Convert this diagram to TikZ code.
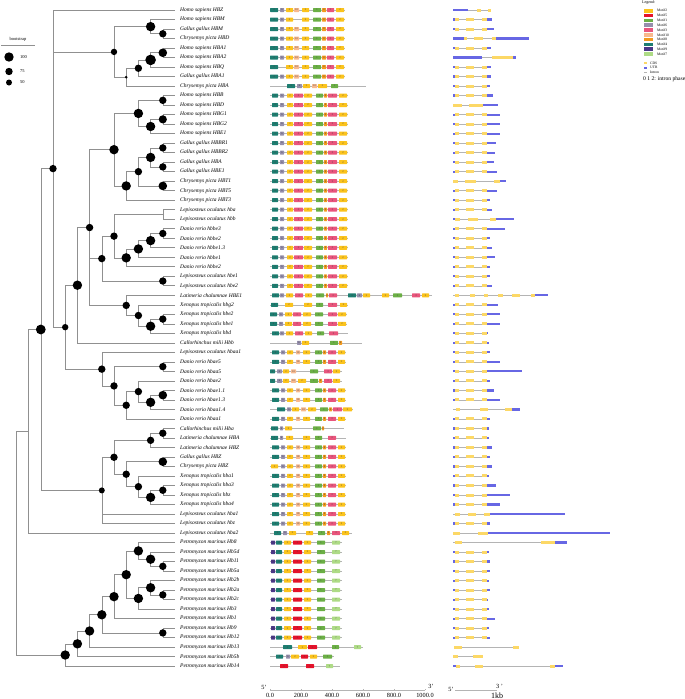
\documentclass[tikz,border=0pt]{standalone}
\usepackage{fontspec}
\setmainfont{Liberation Serif}
\usetikzlibrary{calc}
\definecolor{mone}{HTML}{6BAF45}
\definecolor{mtwo}{HTML}{FBC31C}
\definecolor{mthree}{HTML}{E9557C}
\definecolor{mfour}{HTML}{1D7D70}
\definecolor{mfive}{HTML}{E5122A}
\definecolor{msix}{HTML}{968FAC}
\definecolor{mseven}{HTML}{AEDB86}
\definecolor{meight}{HTML}{F39A1E}
\definecolor{mnine}{HTML}{4B3787}
\definecolor{mten}{HTML}{F8B98E}
\definecolor{cdsc}{HTML}{FCD866}
\definecolor{utrc}{HTML}{6767E4}
\definecolor{brc}{HTML}{909090}
\definecolor{lnc}{HTML}{B4B4B4}
\tikzset{
  branch/.style={draw=brc, line width=0.6pt},
  leaflab/.style={anchor=west, inner sep=0pt, font=\fontsize{5.5}{6}\selectfont\itshape},
  mlab/.style={inner sep=0pt, font=\fontsize{2.6}{3}\selectfont, text=black!75},
  mline/.style={draw=lnc, line width=0.6pt},
  gline/.style={draw=lnc, line width=0.5pt},
  axlab/.style={inner sep=0pt, font=\fontsize{6.3}{7}\selectfont},
  leglab/.style={anchor=west, inner sep=0pt, font=\fontsize{3.6}{4}\selectfont},
}
\newcommand{\nd}[4]{\path let \p1=(#3), \p2=(#4) in coordinate (#1) at ({175-12.2*#2},{0.5*\y1+0.5*\y2});}
\newcommand{\mrow}[4]{%
  \pgfmathsetmacro\ry{10+9.51*(#1-1)}%
  \draw[mline] (270+#2,\ry) -- (270+#3,\ry);%
  \foreach \ms/\me/\mc/\ml in #4 {%
    \fill[\mc, rounded corners=0.5pt] ({270+\ms},\ry-2) rectangle ({270+\me},\ry+2);%
    \node[mlab] (m#1-\ms) at ({270+(\ms+\me)/2},\ry) {\ml};%
  }%
}
\def\tU{U}
\newcommand{\grow}[4]{%
  \pgfmathsetmacro\ry{10+9.51*(#1-1)}%
  \draw[gline] (#2,\ry) -- (#3,\ry);%
  \foreach \gt/\gs/\ge in #4 {%
    \ifx\gt\tU
      \fill[utrc] (\gs,\ry-1.1) rectangle (\ge,\ry+1.1);%
    \else
      \fill[cdsc] (\gs,\ry-1.5) rectangle (\ge,\ry+1.5);%
    \fi
  }%
}
\newcommand{\gstd}[2]{\grow{#1}{453}{#2}{{U/453/455, C/455/459, C/466/474, C/482/487, U/487/#2}}}
\def\motA{0/8/mfour/4, 10/14/msix/6, 16/23/mtwo/2, 24/29/mten/10, 32/39/mtwo/2, 43/51/mone/1, 52/56/meight/8, 57/64/mthree/3, 66/74/mtwo/2}
\def\motB{2/8/mfour/4, 10/14/msix/6, 17/23/mtwo/2, 24/33/mthree/3, 34/42/mtwo/2, 46/53/mone/1, 54/57/meight/8, 58/67/mthree/3, 69/77/mtwo/2}
\def\motC{2/9/mfour/4, 11/15/msix/6, 17/23/mtwo/2, 26/30/mten/10, 33/40/mtwo/2, 45/52/mone/1, 53/56/meight/8, 58/66/mthree/3, 68/75/mtwo/2}
\def\motP{1/5/mnine/9, 6/12/mfour/4, 14/21/mtwo/2, 23/32/mfive/5, 34/41/mtwo/2, 47/55/mone/1, 62/70/mseven/7}
\begin{document}
\begin{tikzpicture}[x=1pt,y=-1pt]
\useasboundingbox (0,0) rectangle (685,699);
\fill[white] (0,0) rectangle (685,699);
% leaves
\foreach \i in {1,...,70} \coordinate (L\i) at (175,{10+9.51*(\i-1)});
% internal nodes
\nd{n56}{1}{L5}{L6}
\nd{n57}{2}{n56}{L7}
\nd{n58}{3}{n57}{L8}
\nd{n59}{4}{n58}{L9}
\nd{n34}{1}{L3}{L4}
\nd{n234}{2}{L2}{n34}
\nd{nAa}{5}{n234}{n59}
\nd{n1011}{1}{L10}{L11}
\nd{n1213}{1}{L12}{L13}
\nd{n1214}{2}{n1213}{L14}
\nd{n1014}{3}{n1011}{n1214}
\nd{n1516}{1}{L15}{L16}
\nd{n1718}{1}{L17}{L18}
\nd{n1518}{2}{n1516}{n1718}
\nd{n1920}{1}{L19}{L20}
\nd{n1520}{3}{n1518}{n1920}
\nd{n1521}{4}{n1520}{L21}
\nd{nE}{5}{n1014}{n1521}
\nd{n2223}{1}{L22}{L23}
\nd{n2425}{1}{L24}{L25}
\nd{n2426}{2}{n2425}{L26}
\nd{n2427}{3}{n2426}{L27}
\nd{n2428}{4}{n2427}{L28}
\nd{nH}{5}{n2223}{n2428}
\nd{n2930}{1}{L29}{L30}
\nd{nG}{6}{nH}{n2930}
\nd{n3334}{1}{L33}{L34}
\nd{n3335}{2}{n3334}{L35}
\nd{n3235}{3}{L32}{n3335}
\nd{nF}{4}{L31}{n3235}
\nd{nD}{7}{nE}{nF}
\nd{nC}{8}{nD}{L36}
\nd{n3839}{1}{L38}{L39}
\nd{n4142}{1}{L41}{L42}
\nd{n4143}{2}{n4142}{L43}
\nd{n4043}{3}{L40}{n4143}
\nd{n4044}{4}{n4043}{L44}
\nd{n3844}{5}{n3839}{n4044}
\nd{nI}{6}{L37}{n3844}
\nd{nN}{9}{nC}{nI}
\nd{nB}{10}{L1}{nN}
\nd{n4546}{1}{L45}{L46}
\nd{n4547}{2}{n4546}{L47}
\nd{n4849}{1}{L48}{L49}
\nd{n5152}{1}{L51}{L52}
\nd{n5153}{2}{n5152}{L53}
\nd{n5053}{3}{L50}{n5153}
\nd{n4853}{4}{n4849}{n5053}
\nd{nK}{5}{n4547}{n4853}
\nd{nJ}{6}{nK}{L55}
\nd{nA}{11}{nB}{nJ}
\nd{nJaw}{12}{nA}{L56}
\nd{n5960}{1}{L59}{L60}
\nd{n5860}{2}{L58}{n5960}
\nd{n5760}{3}{L57}{n5860}
\nd{n6263}{1}{L62}{L63}
\nd{n6163}{2}{L61}{n6263}
\nd{n6164}{3}{n6163}{L64}
\nd{n5764}{4}{n5760}{n6164}
\nd{n5765}{5}{n5764}{L65}
\nd{n6667}{1}{L66}{L67}
\nd{n5767}{6}{n5765}{n6667}
\nd{n5768}{7}{n5767}{L68}
\nd{n5769}{8}{n5768}{L69}
\nd{nP}{9}{n5769}{L70}
\nd{nR}{13}{nJaw}{nP}
% branches
\foreach \a/\b in {nR/nJaw, nR/nP, nJaw/nA, nJaw/L56, nA/nB, nA/nJ, nB/L1, nB/nAa, nB/nN, nAa/n234, nAa/n59, n234/L2, n234/n34, n34/L3, n34/L4, n59/n58, n59/L9, n58/n57, n58/L8, n57/n56, n57/L7, n56/L5, n56/L6, nN/nC, nN/nI, nC/nD, nC/L36, nD/nE, nD/nG, nD/nF, nE/n1014, nE/n1521, n1014/n1011, n1014/n1214, n1011/L10, n1011/L11, n1214/n1213, n1214/L14, n1213/L12, n1213/L13, n1521/n1520, n1521/L21, n1520/n1518, n1520/n1920, n1518/n1516, n1518/n1718, n1516/L15, n1516/L16, n1718/L17, n1718/L18, n1920/L19, n1920/L20, nG/nH, nG/n2930, nH/n2223, nH/n2428, n2223/L22, n2223/L23, n2428/n2427, n2428/L28, n2427/n2426, n2427/L27, n2426/n2425, n2426/L26, n2425/L24, n2425/L25, n2930/L29, n2930/L30, nF/L31, nF/n3235, n3235/L32, n3235/n3335, n3335/n3334, n3335/L35, n3334/L33, n3334/L34, nI/L37, nI/n3844, n3844/n3839, n3844/n4044, n3839/L38, n3839/L39, n4044/n4043, n4044/L44, n4043/L40, n4043/n4143, n4143/n4142, n4143/L43, n4142/L41, n4142/L42, nJ/nK, nJ/L54, nJ/L55, nK/n4547, nK/n4853, n4547/n4546, n4547/L47, n4546/L45, n4546/L46, n4853/n4849, n4853/n5053, n4849/L48, n4849/L49, n5053/L50, n5053/n5153, n5153/n5152, n5153/L53, n5152/L51, n5152/L52, nP/n5769, nP/L70, n5769/n5768, n5769/L69, n5768/n5767, n5768/L68, n5767/n5765, n5767/n6667, n6667/L66, n6667/L67, n5765/n5764, n5765/L65, n5764/n5760, n5764/n6164, n5760/L57, n5760/n5860, n5860/L58, n5860/n5960, n5960/L59, n5960/L60, n6164/n6163, n6164/L64, n6163/L61, n6163/n6263, n6263/L62, n6263/L63}
  \draw[branch] (\a) |- (\b);
% bootstrap dots
\foreach \n/\r in {n234/4.7, n34/3.7, nAa/3.2, n57/5.3, n56/4.3, n58/3.7, n59/1.4, n1011/3.7, n1014/4.7, n1214/4.7, n1213/4.1, nE/4.7, n1516/3.7, n1518/4.7, n1718/3.7, n1520/3.7, n1521/4.7, n1920/4.3, nB/3.7, nD/3.7, n2425/3.7, n2426/4.7, n2427/4.7, n2428/4.7, nH/3.7, nG/3.7, n2930/3.7, nC/4.7, nN/3.2, nA/4.9, nF/3.7, n3235/3.7, n3334/3.7, n3335/4.7, nI/3.7, n3839/3.7, n3844/3.7, n4044/3.7, n4043/3.7, n4143/4.7, n4142/4.3, n4547/3.7, n4546/3.7, nK/3.7, n4849/4.3, nJ/3.0, n4853/3.7, n5053/3.7, n5152/3.7, n5153/4.7, n5760/4.7, n5860/4.7, n5960/3.7, n5764/4.7, n6163/4.7, n6263/3.7, n6164/4.7, n5765/4.7, n5767/4.7, n6667/3.7, n5768/4.7, n5769/4.7, nP/4.7}
  \fill[black] (\n) circle (\r pt);
% leaf labels
\foreach \i/\t in {1/Homo sapiens HBZ, 2/Homo sapiens HBM, 3/Gallus gallus HBM, 4/Chrysemys picta HBD, 5/Homo sapiens HBA1, 6/Homo sapiens HBA2, 7/Homo sapiens HBQ, 8/Gallus gallus HBA1, 9/Chrysemys picta HBA, 10/Homo sapiens HBB, 11/Homo sapiens HBD, 12/Homo sapiens HBG1, 13/Homo sapiens HBG2, 14/Homo sapiens HBE1, 15/Gallus gallus HBBR1, 16/Gallus gallus HBBR2, 17/Gallus gallus HBA, 18/Gallus gallus HBE1, 19/Chrysemys picta HBT1, 20/Chrysemys picta HBT5, 21/Chrysemys picta HBT3, 22/Lepisosteus oculatus hba, 23/Lepisosteus oculatus hbb, 24/Danio rerio hbbe3, 25/Danio rerio hbbe2, 26/Danio rerio hbbe1.3, 27/Danio rerio hbbe1, 28/Danio rerio hbbe2, 29/Lepisosteus oculatus hbe1, 30/Lepisosteus oculatus hbe2, 31/Latimeria chalumnae HBE1, 32/Xenopus tropicalis hbg2, 33/Xenopus tropicalis hbe2, 34/Xenopus tropicalis hbe1, 35/Xenopus tropicalis hbd, 36/Callorhinchus milii Hbb, 37/Lepisosteus oculatus hbaa1, 38/Danio rerio hbae5, 39/Danio rerio hbaa5, 40/Danio rerio hbae2, 41/Danio rerio hbae1.1, 42/Danio rerio hbae1.3, 43/Danio rerio hbaa1.4, 44/Danio rerio hbaa1, 45/Callorhinchus milii Hba, 46/Latimeria chalumnae HBA, 47/Latimeria chalumnae HBZ, 48/Gallus gallus HBZ, 49/Chrysemys picta HBZ, 50/Xenopus tropicalis hba1, 51/Xenopus tropicalis hba3, 52/Xenopus tropicalis hbz, 53/Xenopus tropicalis hba4, 54/Lepisosteus oculatus hba1, 55/Lepisosteus oculatus hbz, 56/Lepisosteus oculatus hba2, 57/Petromyzon marinus Hb8, 58/Petromyzon marinus Hb5d, 59/Petromyzon marinus Hb11, 60/Petromyzon marinus Hb5a, 61/Petromyzon marinus Hb2b, 62/Petromyzon marinus Hb2a, 63/Petromyzon marinus Hb2c, 64/Petromyzon marinus Hb3, 65/Petromyzon marinus Hb1, 66/Petromyzon marinus Hb9, 67/Petromyzon marinus Hb12, 68/Petromyzon marinus Hb13, 69/Petromyzon marinus Hb5b, 70/Petromyzon marinus Hb14}
  \node[leaflab] (t\i) at (180,{10+9.51*(\i-1)}) {\t};
% bootstrap legend
\node[inner sep=0pt, font=\fontsize{4.5}{5}\selectfont] (bstitle) at (18,39.5) {bootstrap};
\draw[brc, line width=0.4pt] (1,45) coordinate (bsa) -- (35,45) coordinate (bsb);
\fill (9,57) coordinate (bs1) circle (4.7pt);
\fill (9,71.5) coordinate (bs2) circle (3.7pt);
\fill (9,82.5) coordinate (bs3) circle (3.0pt);
\node[anchor=west, inner sep=0pt, font=\fontsize{4.5}{5}\selectfont] (bl1) at (20,57) {100};
\node[anchor=west, inner sep=0pt, font=\fontsize{4.5}{5}\selectfont] (bl2) at (20,71.5) {75};
\node[anchor=west, inner sep=0pt, font=\fontsize{4.5}{5}\selectfont] (bl3) at (20,82.5) {50};
% motif rows
\mrow{1}{0}{75}{\motA}
\mrow{2}{0}{75}{{0/8/mfour/4, 10/14/msix/6, 16/23/mtwo/2, 32/39/mtwo/2, 43/51/mone/1, 52/56/meight/8, 57/64/mthree/3, 66/74/mtwo/2}}
\mrow{3}{0}{75}{\motA}
\mrow{4}{0}{75}{\motA}
\mrow{5}{0}{75}{\motA}
\mrow{6}{0}{75}{\motA}
\mrow{7}{0}{75}{{0/8/mfour/4, 16/23/mtwo/2, 24/29/mten/10, 32/39/mtwo/2, 43/51/mone/1, 52/56/meight/8, 57/64/mthree/3, 66/74/mtwo/2}}
\mrow{8}{0}{75}{\motA}
\mrow{9}{0}{96}{{17/25/mfour/4, 27/32/msix/6, 33/40/mtwo/2, 42/47/mten/10, 48/57/mtwo/2, 61/68/mone/1}}
\foreach \i in {10,...,30} {\mrow{\i}{0}{78}{\motB}}
\mrow{31}{0}{162}{{2/9/mfour/4, 10/14/msix/6, 16/23/mtwo/2, 25/33/mthree/3, 35/42/mtwo/2, 46/54/mone/1, 56/58/meight/8, 59/67/mthree/3, 78/86/mfour/4, 87/92/msix/6, 93/100/mtwo/2, 112/119/mtwo/2, 123/132/mone/1, 142/150/mthree/3, 152/159/mtwo/2}}
\mrow{32}{0}{78}{{1/8/mfour/4, 15/23/mtwo/2, 34/42/mtwo/2, 46/53/mone/1, 58/67/mthree/3, 70/77/mtwo/2}}
\mrow{33}{0}{77}{{0/7/mfour/4, 9/13/msix/6, 15/22/mtwo/2, 23/31/mthree/3, 33/41/mtwo/2, 45/53/mone/1, 58/67/mthree/3, 68/76/mtwo/2}}
\mrow{34}{0}{77}{{0/7/mfour/4, 9/13/msix/6, 15/22/mtwo/2, 23/31/mthree/3, 33/41/mtwo/2, 45/53/mone/1, 58/67/mthree/3, 68/76/mtwo/2}}
\mrow{35}{0}{78}{{2/9/mfour/4, 10/14/msix/6, 16/23/mtwo/2, 25/33/mthree/3, 35/42/mtwo/2, 47/54/mone/1, 59/68/mthree/3}}
\mrow{36}{0}{92}{{27/31/msix/6, 32/39/mtwo/2, 60/68/mone/1, 69/72/meight/8}}
\mrow{37}{0}{76}{\motC}
\mrow{38}{0}{76}{\motC}
\mrow{39}{0}{72}{{0/5/mfour/4, 7/12/msix/6, 13/19/mtwo/2, 21/26/mten/10, 40/48/mone/1, 54/62/mthree/3, 63/70/mtwo/2}}
\mrow{40}{0}{72}{{0/5/mfour/4, 7/12/msix/6, 13/19/mtwo/2, 21/26/mten/10, 28/36/mtwo/2, 40/48/mone/1, 49/52/meight/8, 54/62/mthree/3, 63/70/mtwo/2}}
\mrow{41}{0}{76}{\motC}
\mrow{42}{0}{76}{\motC}
\mrow{43}{0}{83}{{7/15/mfour/4, 17/21/msix/6, 22/29/mtwo/2, 31/36/mten/10, 38/46/mtwo/2, 50/58/mone/1, 59/62/meight/8, 63/72/mthree/3, 73/82/mtwo/2}}
\mrow{44}{0}{76}{\motC}
\mrow{45}{0}{74}{{1/8/mfour/4, 10/13/msix/6, 15/22/mtwo/2, 43/51/mone/1, 52/54/meight/8}}
\mrow{46}{0}{76}{{1/8/mfour/4, 10/13/msix/6, 16/23/mtwo/2, 33/40/mtwo/2, 45/52/mone/1, 58/66/mthree/3}}
\foreach \i in {47,48,50,51,52,53,54,55} {\mrow{\i}{0}{76}{\motC}}
\mrow{49}{0}{76}{{1/8/mtwo/2, 11/15/msix/6, 17/23/mtwo/2, 26/30/mten/10, 33/40/mtwo/2, 45/52/mone/1, 53/56/meight/8, 58/66/mthree/3, 68/75/mtwo/2}}
\mrow{56}{0}{82}{{4/11/mfour/4, 13/17/msix/6, 19/26/mtwo/2, 36/43/mtwo/2, 48/55/mone/1, 57/60/meight/8, 62/70/mthree/3, 72/79/mtwo/2}}
\foreach \i in {57,...,67} {\mrow{\i}{0}{72}{\motP}}
\mrow{68}{0}{93}{{13/22/mfour/4, 28/37/mtwo/2, 38/47/mfive/5, 62/69/mone/1, 84/91/mseven/7}}
\mrow{69}{0}{64}{{6/13/mfour/4, 16/20/msix/6, 21/29/mtwo/2, 31/38/mfive/5, 40/47/mtwo/2, 53/62/mone/1}}
\mrow{70}{0}{70}{{10/18/mfive/5, 36/44/mfive/5, 56/63/mseven/7}}
% motif axis
\draw[lnc, line width=0.5pt] (270,690) coordinate (ax0) -- (425,690) coordinate (ax1);
\foreach \k/\v in {0/0.0, 1/200.0, 2/400.0, 3/600.0, 4/800.0, 5/1000.0} {
  \draw[lnc, line width=0.4pt] (270+31*\k,690) -- (270+31*\k,688.5);
  \node[axlab] (ax\k) at (270+31*\k,695.5) {\v};
}
\node[axlab] (ax5p) at (264,687.5) {5'};
\node[axlab] (ax3p) at (431,686.5) {3'};
% gene structures
\grow{1}{453}{491}{{U/453/468, C/477/481, C/488/491}}
\gstd{2}{492}
\gstd{3}{494}
\grow{4}{453}{529}{{U/453/464, C/464/467, C/474/483, C/492/496, U/496/529}}
\gstd{5}{491}
\grow{6}{453}{516}{{U/453/482, C/492/513, U/513/516}}
\foreach \i/\en in {7/491, 8/491, 9/490, 10/493, 12/500, 13/500, 14/500, 15/496, 16/495, 17/494, 18/497, 20/497, 21/490, 22/492, 24/505, 25/490, 26/492, 27/495, 28/490, 29/490, 30/492, 32/498, 33/500, 34/500, 35/488, 36/489, 37/490, 38/500, 40/490, 41/494, 42/500, 44/490, 45/489, 46/489, 47/492, 48/490, 49/492, 50/489, 51/496, 52/510, 53/500, 55/490, 58/489, 59/490, 60/490, 61/489, 62/490, 63/488, 64/489, 65/495, 66/489, 67/490}
  {\gstd{\i}{\en}}
\grow{11}{453}{498}{{C/453/462, C/469/483, U/483/498}}
\grow{19}{453}{506}{{C/453/458, C/465/476, C/494/500, U/500/506}}
\grow{23}{453}{514}{{U/453/455, C/455/460, C/468/478, C/490/496, U/496/514}}
\grow{31}{453}{548}{{C/455/459, C/470/475, C/484/488, C/498/503, C/512/520, C/531/535, U/535/548}}
\grow{39}{453}{522}{{U/453/455, C/455/459, C/466/474, C/482/487, U/487/522}}
\grow{43}{453}{520}{{C/456/460, C/480/488, C/505/512, U/512/520}}
\grow{54}{453}{565}{{C/455/460, C/468/476, C/484/490, U/490/565}}
\grow{56}{453}{610}{{C/453/460, C/478/488, U/488/610}}
\grow{57}{453}{567}{{C/455/462, C/541/555, U/555/567}}
\grow{68}{454}{519}{{C/454/462, C/513/519}}
\grow{69}{453}{483}{{C/453/458, C/473/483}}
\grow{70}{453}{563}{{U/453/456, C/456/460, C/475/483, C/550/555, U/555/563}}
% gene scale
\draw[lnc, line width=0.6pt] (455,690) coordinate (gs0) -- (497,690) coordinate (gs1);
\node[axlab] (gs5) at (451,689.5) {5'};
\node[axlab] (gs3) at (499.5,686) {3 '};
\node[inner sep=0pt, font=\fontsize{8}{9}\selectfont] (gskb) at (497,695.5) {1kb};
% motif legend
\node[leglab, font=\fontsize{4}{4.5}\selectfont] (lgt) at (642,3) {Legend:};
\foreach \k/\c/\t in {0/mtwo/Motif2, 1/mfive/Motif5, 2/mone/Motif1, 3/msix/Motif6, 4/mthree/Motif3, 5/mten/Motif10, 6/meight/Motif8, 7/mfour/Motif4, 8/mnine/Motif9, 9/mseven/Motif7} {
  \fill[\c] (644,{10.7+4.82*\k-1.8}) rectangle (653,{10.7+4.82*\k+1.8});
  \node[leglab] (lg\k) at (657,{10.7+4.82*\k}) {\t};
}
\fill[cdsc] (644,62) rectangle (647,64.2);
\node[leglab] (lgc) at (650,63.1) {CDS};
\fill[utrc] (644,66.8) rectangle (647,68.6);
\node[leglab] (lgu) at (650,67.7) {UTR};
\draw[lnc, line width=0.5pt] (644,72.2) -- (647,72.2);
\node[leglab] (lgi) at (650,72.2) {Intron};
\node[anchor=west, inner sep=0pt, font=\fontsize{5.6}{6}\selectfont] (lgp) at (643,79) {0 1 2: intron phase};
\end{tikzpicture}
\end{document}
